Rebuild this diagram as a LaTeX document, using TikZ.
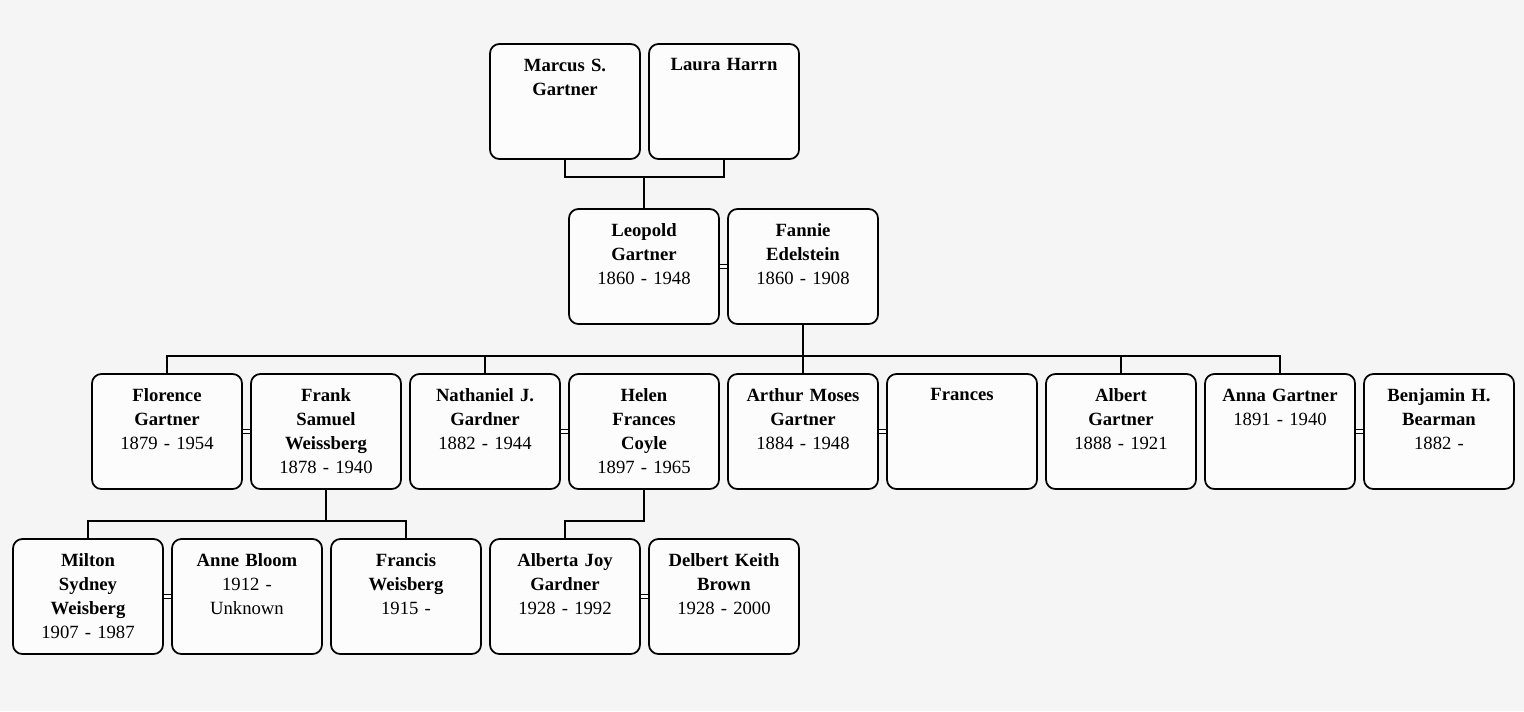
\documentclass[tikz,border=0pt]{standalone}
\usepackage{fontspec}
\setmainfont{Liberation Serif}
\begin{document}
\begin{tikzpicture}[x=0.75pt,y=-0.75pt,
  pbox/.style={draw,line width=1.3pt,rounded corners=7pt,fill=white!60!gray!5,minimum width=112.5pt,minimum height=86.25pt,inner sep=0pt},
  ptext/.style={anchor=north,align=center,text width=110pt,font=\fontsize{14}{18}\selectfont,inner sep=0pt},
  conn/.style={line width=1.3pt},
  marr/.style={line width=0.8pt,double,double distance=2.2pt}]
\fill[gray!8] (0,0) rectangle (1524,711);
\useasboundingbox (0,0) rectangle (1524,711);
\newcommand\person[4]{\node[pbox] (#1) at (#2,#3) {};\node[ptext] at ([yshift=-11.5pt]#1.north) {#4};}
\person{marcus}{565}{101.5}{\textbf{Marcus S.}\\\textbf{Gartner}}
\person{laura}{724}{101.5}{\textbf{Laura Harrn}}
\person{leo}{644}{266.5}{\textbf{Leopold}\\\textbf{Gartner}\\1860 - 1948}
\person{fannie}{803}{266.5}{\textbf{Fannie}\\\textbf{Edelstein}\\1860 - 1908}
\person{flo}{167}{431.5}{\textbf{Florence}\\\textbf{Gartner}\\1879 - 1954}
\person{frank}{326}{431.5}{\textbf{Frank}\\\textbf{Samuel}\\\textbf{Weissberg}\\1878 - 1940}
\person{nat}{485}{431.5}{\textbf{Nathaniel J.}\\\textbf{Gardner}\\1882 - 1944}
\person{helen}{644}{431.5}{\textbf{Helen}\\\textbf{Frances}\\\textbf{Coyle}\\1897 - 1965}
\person{arthur}{803}{431.5}{\textbf{Arthur Moses}\\\textbf{Gartner}\\1884 - 1948}
\person{frances}{962}{431.5}{\textbf{Frances}}
\person{albert}{1121}{431.5}{\textbf{Albert}\\\textbf{Gartner}\\1888 - 1921}
\person{anna}{1280}{431.5}{\textbf{Anna Gartner}\\1891 - 1940}
\person{ben}{1439}{431.5}{\textbf{Benjamin H.}\\\textbf{Bearman}\\1882 -}
\person{milton}{88}{596.5}{\textbf{Milton}\\\textbf{Sydney}\\\textbf{Weisberg}\\1907 - 1987}
\person{anne}{247}{596.5}{\textbf{Anne Bloom}\\1912 -\\Unknown}
\person{francis}{406}{596.5}{\textbf{Francis}\\\textbf{Weisberg}\\1915 -}
\person{alberta}{565}{596.5}{\textbf{Alberta Joy}\\\textbf{Gardner}\\1928 - 1992}
\person{delbert}{724}{596.5}{\textbf{Delbert Keith}\\\textbf{Brown}\\1928 - 2000}
% marriages
\foreach \a/\b in {leo/fannie,flo/frank,nat/helen,arthur/frances,anna/ben,milton/anne,alberta/delbert}
  \draw[marr] (\a.east) -- (\b.west);
% descent
\coordinate (j1) at (644,177);
\draw[conn] (marcus.south) |- (j1) -| (laura.south);
\draw[conn] (j1) -- (leo.north);
\coordinate (j2) at (803,356);
\draw[conn] (fannie.south) -- (j2);
\draw[conn] (flo.north) |- (j2) -| (anna.north);
\draw[conn] (nat.north) -- (nat.north |- j2);
\draw[conn] (arthur.north) -- (j2);
\draw[conn] (albert.north) -- (albert.north |- j2);
\coordinate (j3) at (326,521);
\draw[conn] (frank.south) -- (j3);
\draw[conn] (milton.north) |- (j3) -| (francis.north);
\coordinate (j4) at (644,521);
\draw[conn] (helen.south) -- (j4) -| (alberta.north);
\end{tikzpicture}
\end{document}
